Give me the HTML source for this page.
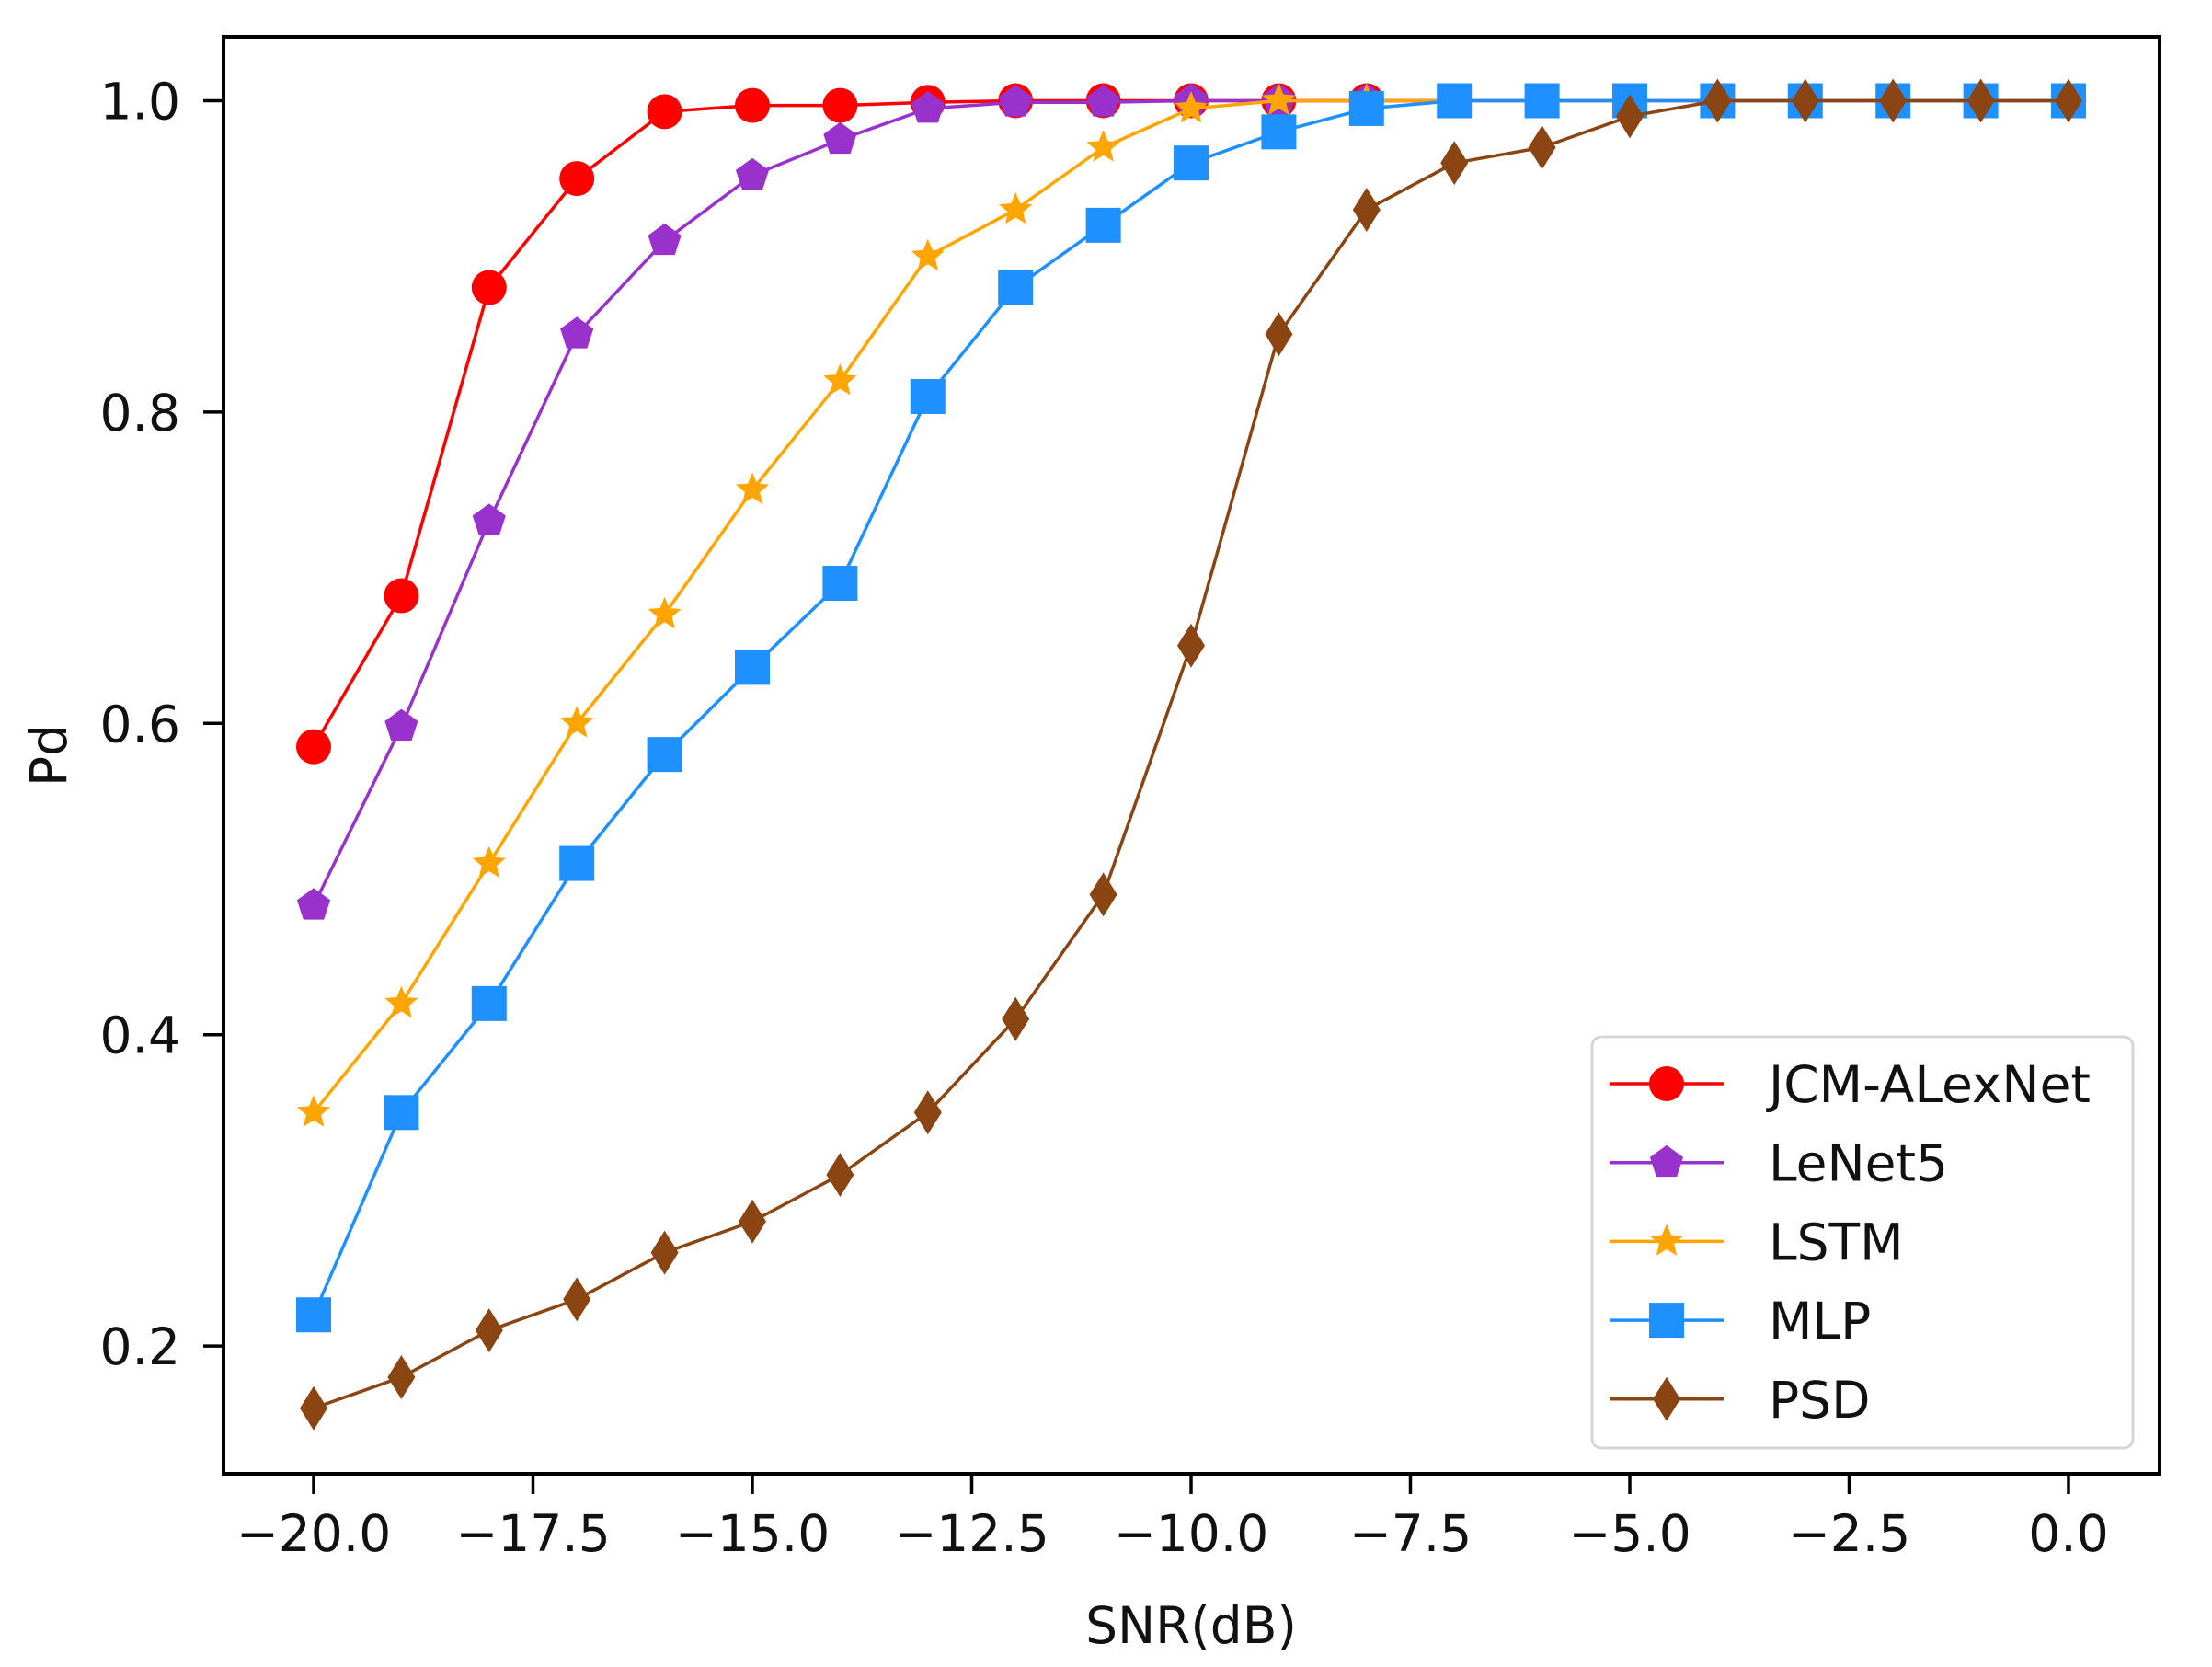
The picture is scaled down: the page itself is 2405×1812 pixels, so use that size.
<!DOCTYPE html>
<html><head><meta charset="utf-8"><style>
html,body{margin:0;padding:0;background:#fff;}
svg text{font-family:"DejaVu Sans","Liberation Sans",sans-serif;fill:#111;}
</style></head><body>
<svg id="s" width="2405" height="1807" viewBox="0 0 2405 1807" xmlns="http://www.w3.org/2000/svg">
<rect width="2405" height="1807" fill="#fff"/>
<g id="plot"></g>
<rect x="243" y="40" width="2105" height="1562" fill="none" stroke="#000" stroke-width="4"/>
<g id="ticks"></g>
<text x="1295" y="1786" font-size="55" text-anchor="middle">SNR(dB)</text>
<text transform="translate(72,821) rotate(-90)" font-size="55" text-anchor="middle">Pd</text>
<g id="legend"></g>
</svg>
<script>
const NS="http://www.w3.org/2000/svg";
const X=v=>2249+(v)*95.4, Y=v=>109.5+(1-v)*1692;
function el(t,a,p){const e=document.createElementNS(NS,t);for(const k in a)e.setAttribute(k,a[k]);p.appendChild(e);return e;}
const tk=document.getElementById('ticks');
[-20,-17.5,-15,-12.5,-10,-7.5,-5,-2.5,0].forEach(v=>{
 el('line',{x1:X(v),x2:X(v),y1:1602,y2:1624,stroke:'#000','stroke-width':3.5},tk);
 const t=el('text',{x:X(v),y:1686,'font-size':55,'text-anchor':'middle'},tk);
 t.textContent=(v<0?'\u2212':'')+Math.abs(v).toFixed(1);
});
[0.2,0.4,0.6,0.8,1.0].forEach(v=>{
 el('line',{x1:221,x2:243,y1:Y(v),y2:Y(v),stroke:'#000','stroke-width':3.5},tk);
 const t=el('text',{x:196,y:Y(v)+20,'font-size':55,'text-anchor':'end'},tk);
 t.textContent=v.toFixed(1);
});
function poly(n,r,rot,inner){let p=[];const m=inner?2*n:n;for(let i=0;i<m;i++){const a=-Math.PI/2+i*2*Math.PI/m;const rr=inner&&i%2?r*inner:r;p.push([rr*Math.cos(a),rr*Math.sin(a)]);}return p;}
function marker(type,x,y,c,g){
 if(type==='o')el('circle',{cx:x,cy:y,r:19,fill:c},g);
 else if(type==='s')el('rect',{x:x-19,y:y-19,width:38,height:38,fill:c},g);
 else{let pts;
  if(type==='p')pts=poly(5,19);
  else if(type==='*')pts=poly(5,19,0,0.45);
  else pts=[[0,-24],[15,0],[0,24],[-15,0]];
  el('polygon',{points:pts.map(p=>(x+p[0])+','+(y+p[1])).join(' '),fill:c},g);}
}
const xs=[];for(let i=-20;i<=0;i++)xs.push(i);
const S=[
 ['JCM-ALexNet','#ff0000','o',[0.585,0.682,0.88,0.95,0.993,0.997,0.997,0.999,1,1,1,1,1,1,1,1,1,1,1,1,1]],
 ['LeNet5','#9932cc','p',[0.483,0.598,0.73,0.85,0.91,0.952,0.975,0.995,0.999,0.999,1,1,1,1,1,1,1,1,1,1,1]],
 ['LSTM','#ffa500','*',[0.35,0.42,0.51,0.60,0.67,0.75,0.82,0.90,0.93,0.97,0.995,1,1,1,1,1,1,1,1,1,1]],
 ['MLP','#1e90ff','s',[0.22,0.35,0.42,0.51,0.58,0.636,0.69,0.81,0.88,0.92,0.96,0.98,0.995,1,1,1,1,1,1,1,1]],
 ['PSD','#8b4513','d',[0.16,0.18,0.21,0.23,0.26,0.28,0.31,0.35,0.41,0.49,0.65,0.85,0.93,0.96,0.97,0.99,1,1,1,1,1]]
];
const pg=document.getElementById('plot');
S.forEach(s=>{
 const g=el('g',{},pg);
 el('polyline',{points:xs.map((x,i)=>X(x)+','+Y(s[3][i])).join(' '),fill:'none',stroke:s[1],'stroke-width':3.5,'stroke-linejoin':'round'},g);
 xs.forEach((x,i)=>marker(s[2],X(x),Y(s[3][i]),s[1],g));
});
const lg=document.getElementById('legend');
el('rect',{x:1731,y:1127,width:588,height:447,rx:10,fill:'#fff',stroke:'#d6d6d6','stroke-width':3},lg);
S.forEach((s,i)=>{
 const y=1178+i*85.7;
 el('line',{x1:1750,x2:1874,y1:y,y2:y,stroke:s[1],'stroke-width':3.5},lg);
 marker(s[2],1812,y,s[1],lg);
 const t=el('text',{x:1923,y:y+20,'font-size':55},lg);t.textContent=s[0];
});
</script>
</body></html>
